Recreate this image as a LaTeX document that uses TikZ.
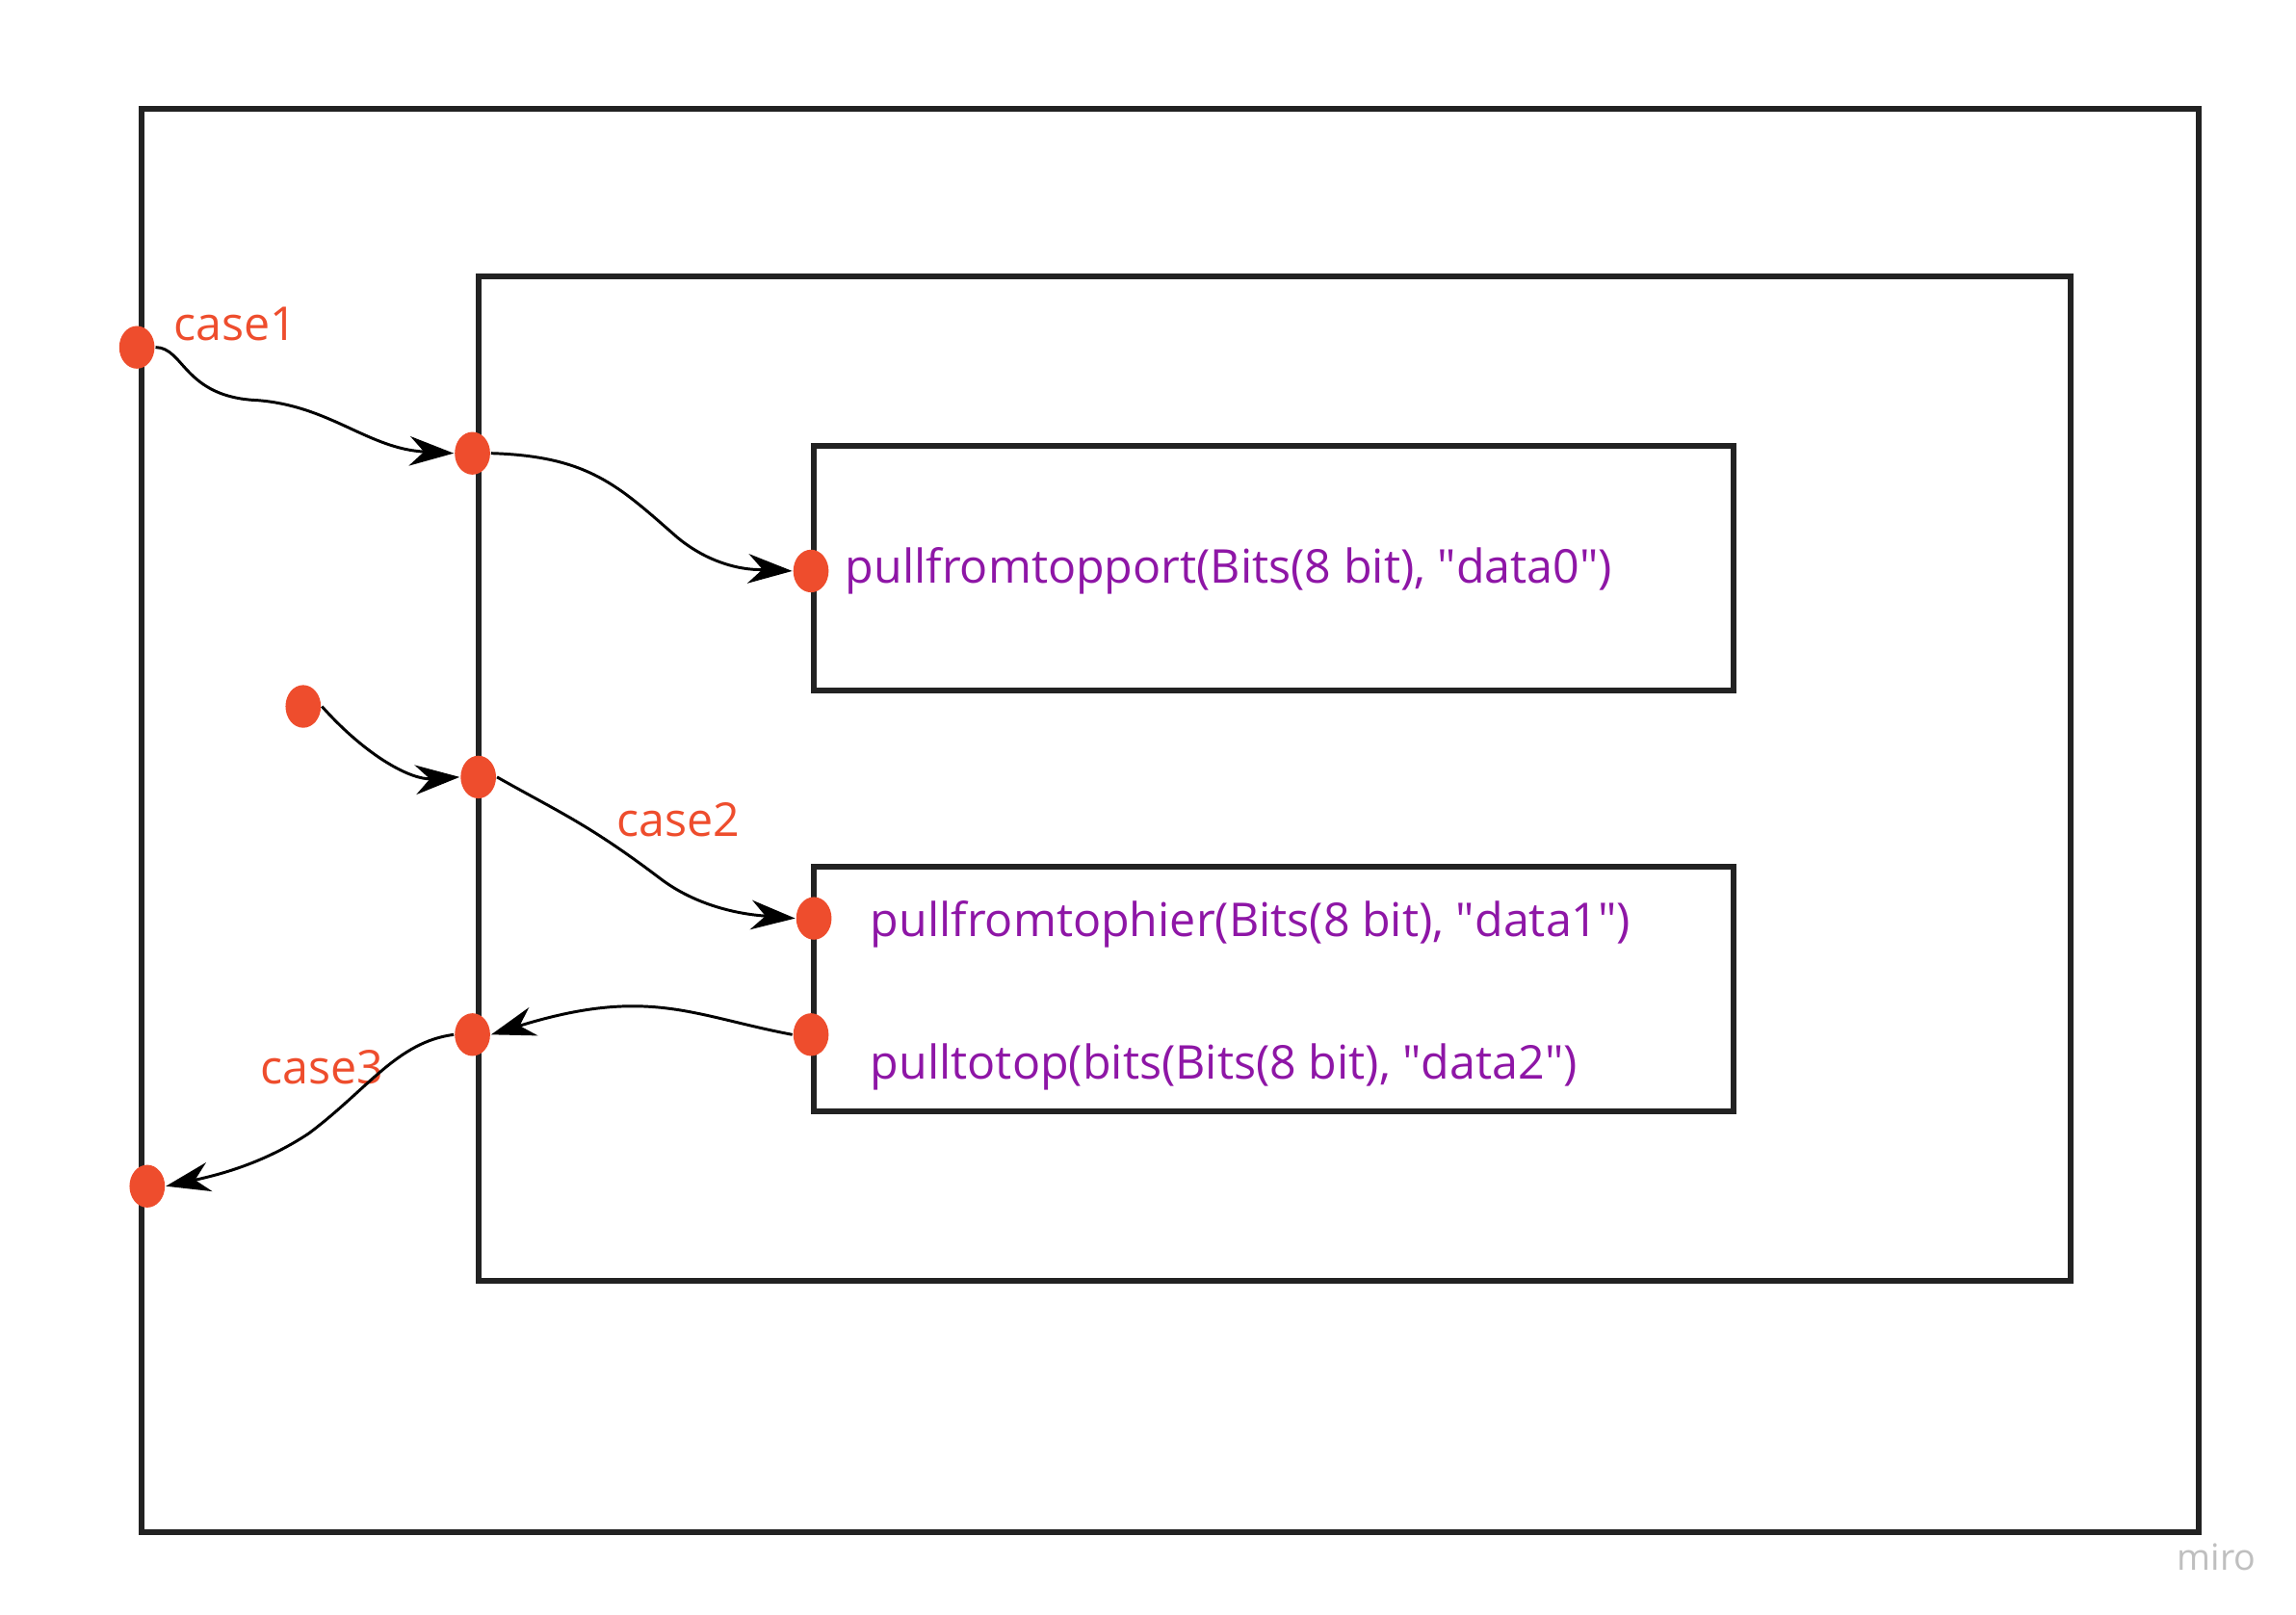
\documentclass[tikz,border=0pt]{standalone}
\usepackage{fontspec}
\setmainfont{Open Sans}
\usetikzlibrary{arrows.meta,shapes.geometric}
\definecolor{dotred}{HTML}{EE4D2D}
\definecolor{txtpurple}{HTML}{8E16A6}
\definecolor{frame}{HTML}{222222}
\tikzset{
  box/.style={draw=frame,line width=1.1pt},
  dot/.style={ellipse,fill=dotred,minimum width=0.24cm,minimum height=0.29cm,inner sep=0pt},
  wire/.style={black,line width=0.55pt,-{Stealth[length=0.3cm,width=0.2cm]}},
  lab/.style={text=dotred,font=\fontsize{9}{11}\selectfont},
  ptxt/.style={text=txtpurple,font=\fontsize{9}{11}\selectfont,anchor=west}
}
\begin{document}
\begin{tikzpicture}[x=0.01cm,y=-0.01cm]
\useasboundingbox (0,0) rectangle (1560,1097);
\draw[box] (96,74) rectangle (1494,1041);
\draw[box] (325,188) rectangle (1407,870);
\draw[box] (553,303) rectangle (1178,469);
\draw[box] (553,589) rectangle (1178,755);
\node[dot] (d1) at (93,236) {};
\node[dot] (m1) at (321,308) {};
\node[dot] (b1) at (551,388) {};
\node[dot] (s2) at (206,480) {};
\node[dot] (m2) at (325,528) {};
\node[dot] (b2) at (553,624) {};
\node[dot] (m3) at (321,703) {};
\node[dot] (b3) at (551,703) {};
\node[dot] (d3) at (100,806) {};
\node[lab] (c1) at (160,220) {case1};
\node[lab] (c2) at (461,557) {case2};
\node[lab] (c3) at (219,725) {case3};
\node[ptxt] (t1) at (562,388) {pullfromtopport(Bits(8 bit), \textquotedbl data0\textquotedbl)};
\node[ptxt] (t2) at (579,628) {pullfromtophier(Bits(8 bit), \textquotedbl data1\textquotedbl)};
\node[ptxt] (t3) at (579,725) {pulltotop(bits(Bits(8 bit), \textquotedbl data2\textquotedbl)};
\node[text=black!25,font=\fontsize{7}{8}\selectfont] (miro) at (1506,1058) {miro};
\draw[wire] (d1.east) .. controls (125,236) and (125,270) .. (175,272) .. controls (225,276) and (250,305) .. (m1.west);
\draw[wire] (m1.east) .. controls (400,310) and (420,330) .. (460,365) .. controls (490,390) and (520,387) .. (b1.west);
\draw[wire] (s2.east) .. controls (250,515) and (280,530) .. (m2.west);
\draw[wire] (m2.east) .. controls (380,552) and (400,560) .. (450,598) .. controls (480,620) and (515,622) .. (b2.west);
\draw[wire] (b3.west) .. controls (470,690) and (440,670) .. (m3.east);
\draw[wire] (m3.west) .. controls (270,708) and (250,740) .. (210,770) .. controls (180,790) and (150,798) .. (d3.east);
\end{tikzpicture}
\end{document}
